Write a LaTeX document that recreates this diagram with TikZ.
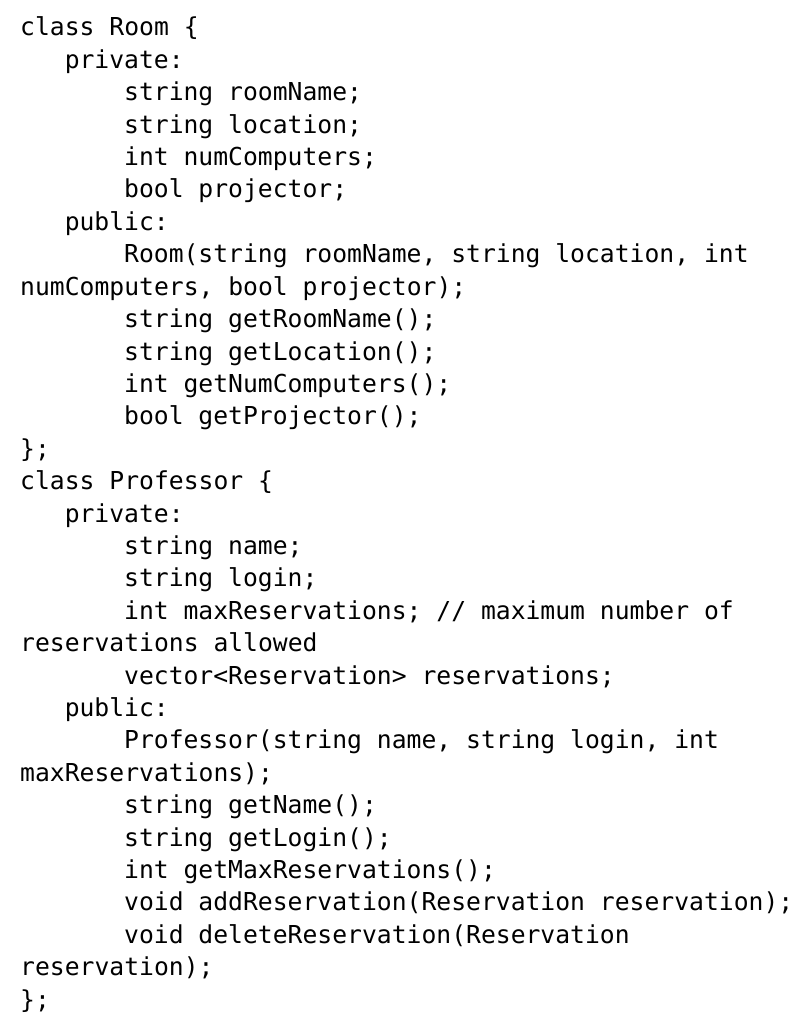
\documentclass[tikz,border=0pt]{standalone}
\usepackage{fontspec}
\setmonofont{DejaVu Sans Mono}
\begin{document}
\begin{tikzpicture}[x=1pt,y=-1pt,
  codeline/.style={anchor=base west,inner sep=0pt,font=\ttfamily\fontsize{24.7}{30}\selectfont,text=black}]
\useasboundingbox (0,0) rectangle (808,1024);
\def\cw{14.85}
\def\ly#1{\fpeval{36+32.4*(#1-1)}}
\node[codeline] (l1) at (20,36) {class Room \{};
\node[codeline] (l2) at ({20+3*\cw},68.4) {private:};
\node[codeline] (l3) at ({20+7*\cw},100.8) {string roomName;};
\node[codeline] (l4) at ({20+7*\cw},133.2) {string location;};
\node[codeline] (l5) at ({20+7*\cw},165.6) {int numComputers;};
\node[codeline] (l6) at ({20+7*\cw},198) {bool projector;};
\node[codeline] (l7) at ({20+3*\cw},230.4) {public:};
\node[codeline] (l8) at ({20+7*\cw},262.8) {Room(string roomName, string location, int};
\node[codeline] (l9) at (20,295.2) {numComputers, bool projector);};
\node[codeline] (l10) at ({20+7*\cw},327.6) {string getRoomName();};
\node[codeline] (l11) at ({20+7*\cw},360) {string getLocation();};
\node[codeline] (l12) at ({20+7*\cw},392.4) {int getNumComputers();};
\node[codeline] (l13) at ({20+7*\cw},424.8) {bool getProjector();};
\node[codeline] (l14) at (20,457.2) {\};};
\node[codeline] (l15) at (20,489.6) {class Professor \{};
\node[codeline] (l16) at ({20+3*\cw},522) {private:};
\node[codeline] (l17) at ({20+7*\cw},554.4) {string name;};
\node[codeline] (l18) at ({20+7*\cw},586.8) {string login;};
\node[codeline] (l19) at ({20+7*\cw},619.2) {int maxReservations; // maximum number of};
\node[codeline] (l20) at (20,651.6) {reservations allowed};
\node[codeline] (l21) at ({20+7*\cw},684) {vector<Reservation> reservations;};
\node[codeline] (l22) at ({20+3*\cw},716.4) {public:};
\node[codeline] (l23) at ({20+7*\cw},748.8) {Professor(string name, string login, int};
\node[codeline] (l24) at (20,781.2) {maxReservations);};
\node[codeline] (l25) at ({20+7*\cw},813.6) {string getName();};
\node[codeline] (l26) at ({20+7*\cw},846) {string getLogin();};
\node[codeline] (l27) at ({20+7*\cw},878.4) {int getMaxReservations();};
\node[codeline] (l28) at ({20+7*\cw},910.8) {void addReservation(Reservation reservation);};
\node[codeline] (l29) at ({20+7*\cw},943.2) {void deleteReservation(Reservation};
\node[codeline] (l30) at (20,975.6) {reservation);};
\node[codeline] (l31) at (20,1008) {\};};
\end{tikzpicture}
\end{document}
